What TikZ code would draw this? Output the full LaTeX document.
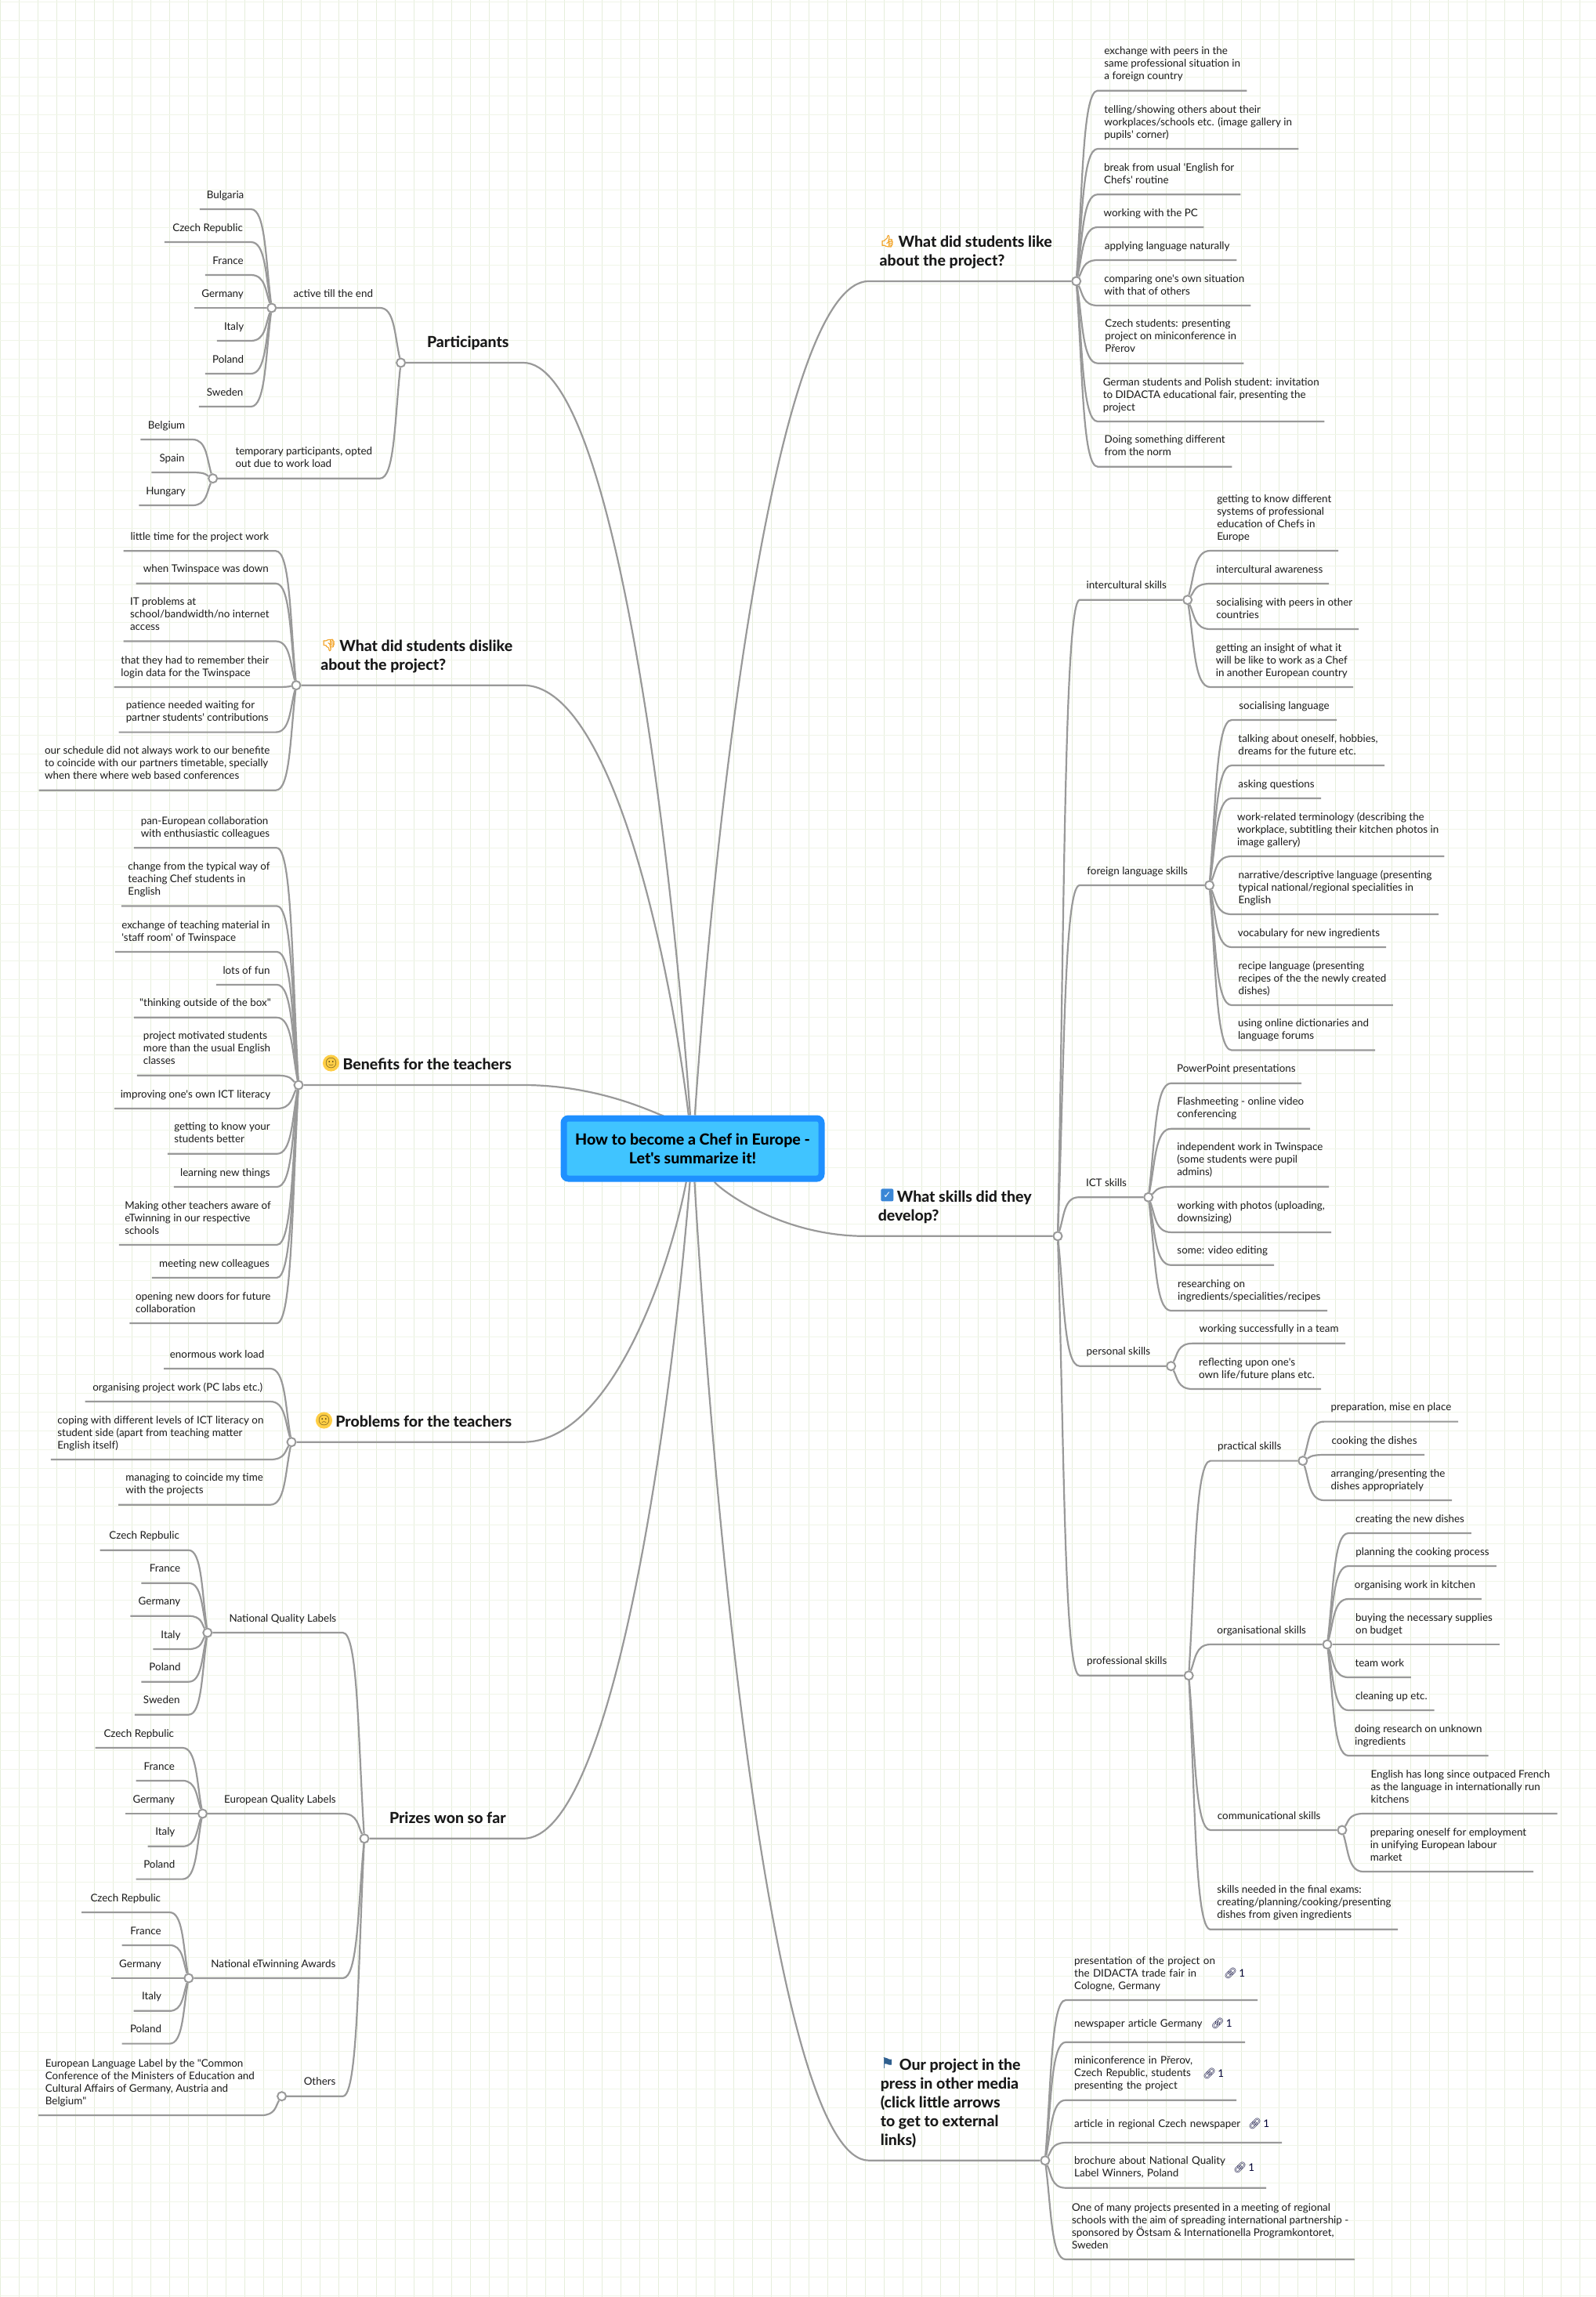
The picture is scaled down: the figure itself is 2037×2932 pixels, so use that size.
\documentclass[tikz,border=0pt]{standalone}
\usepackage{fontspec}
\usetikzlibrary{calc,backgrounds}
\newfontfamily\bodyfont{Lato}
\newfontfamily\headfont{Lato Heavy}
\newfontfamily\emojifont{Noto Emoji}
\newfontfamily\symbfont{DejaVu Sans}
\definecolor{linkgray}{HTML}{999999}
\definecolor{gridv}{HTML}{E6EEDC}
\definecolor{gridh}{HTML}{F0F5E8}
\definecolor{rootfill}{HTML}{40C4FF}
\definecolor{rootdraw}{HTML}{1E90FF}
\definecolor{thumbcol}{HTML}{F2A52B}
\definecolor{facecol}{HTML}{FFCE45}
\definecolor{checkcol}{HTML}{3A86D6}
\definecolor{flagcol}{HTML}{2F5F8F}
\tikzset{
  leaf/.style={align=left,inner xsep=2,inner ysep=0,text=black!90,
    font=\bodyfont\fontsize{13.4}{16}\selectfont,
    execute at end node=\rule[-13.7pt]{0pt}{1pt}},
  leafr/.style={leaf,anchor=south west},
  leafl/.style={leaf,anchor=south east},
  pressleaf/.style={leafr,inner xsep=10.7},
  pressone/.style={pressleaf,execute at end node=\rule[-19pt]{0pt}{1pt}},
  headr/.style={leafr,font=\headfont\fontsize{19.5}{24}\selectfont,
    execute at end node=\rule[-19.5pt]{0pt}{1pt}},
  headl/.style={headr,anchor=south east},
  root/.style={align=center,rounded corners=6,draw=rootdraw,fill=rootfill,line width=8,
    minimum width=329,minimum height=77,font=\headfont\fontsize{19.6}{24}\selectfont},
  hub/.style={circle,draw=linkgray,fill=white,line width=2,minimum size=11,inner sep=0},
  iconmark/.style={inner sep=0,font=\emojifont\addfontfeature{FakeBold=3}\fontsize{15}{15}\selectfont},
  facemark/.style={inner sep=0,circle,fill=facecol,text=black!75!facecol,minimum size=17,
    font=\emojifont\fontsize{13}{13}\selectfont},
  linkmark/.style={inner sep=0,text=black!80!blue,font=\bodyfont\fontsize{13.4}{16}\selectfont},
  link/.style={draw=linkgray,line width=2.2},
  hublink/.style={to path={let \p1=(\tikztostart),\p2=(\tikztotarget) in
    .. controls ({\x1+.3*(\x2-\x1)},{\y1+.5*(\y2-\y1)}) and ({\x1+.3*(\x2-\x1)},\y2) .. (\tikztotarget)}},
  mainlink/.style={to path={let \p1=(\tikztostart),\p2=(\tikztotarget) in
    .. controls ({\x1+.15*(\x2-\x1)},{\y1+.45*(\y2-\y1)}) and ({\x1+.5*(\x2-\x1)},\y2) .. (\tikztotarget)}}
}
\begin{document}
\begin{tikzpicture}[x=1pt,y=-1pt]
\useasboundingbox (0,0) rectangle (2037,2932);

\node[root] (ctr) at (884,1466) {How to become a Chef in Europe -\\Let's summarize it!};

\node[headl,minimum width=141] (part) at (668,463) {Participants};
\node[hub] (hPart) at (511.6,463) {};
\node[leafl,minimum width=119] (active) at (485,393) {active till the end};
\node[leafl,minimum width=194] (temp) at (485,610.7) {temporary participants, opted\\out due to work load};
\node[hub] (hActive) at (346.7,393) {};
\node[hub] (hTemp) at (271.7,610.7) {};
\node[leafl,minimum width=65] (a1) at (320.3,267) {Bulgaria};
\node[leafl,minimum width=110] (a2) at (320.3,309) {Czech Republic};
\node[leafl,minimum width=58] (a3) at (320.3,351) {France};
\node[leafl,minimum width=72] (a4) at (320.3,393) {Germany};
\node[leafl,minimum width=43] (a5) at (320.3,435) {Italy};
\node[leafl,minimum width=58] (a6) at (320.3,477) {Poland};
\node[leafl,minimum width=66] (a7) at (320.3,519) {Sweden};
\node[leafl,minimum width=66] (t1) at (245.7,561) {Belgium};
\node[leafl,minimum width=52] (t2) at (245.7,603) {Spain};
\node[leafl,minimum width=68] (t3) at (245.7,645) {Hungary};

\node[headl,minimum width=272] (dislike) at (668,874.7) {\hspace*{24pt}What did students dislike\\about the project?};
\node[iconmark,text=thumbcol] (iDislike) at (419.8,823.5) {\char"1F44E};
\node[hub] (hDislike) at (378,874.7) {};
\node[leafl,minimum width=194] (d1) at (352,703.3) {little time for the project work};
\node[leafl,minimum width=178] (d2) at (352,744.8) {when Twinspace was down};
\node[leafl,minimum width=194] (d3) at (352,818.5) {IT problems at\\school/bandwidth/no internet\\access};
\node[leafl,minimum width=206] (d4) at (352,877) {that they had to remember their\\login data for the Twinspace};
\node[leafl,minimum width=200] (d5) at (352,934.6) {patience needed waiting for\\partner students' contributions};
\node[leafl,minimum width=302] (d6) at (352,1008.7) {our schedule did not always work to our benefite\\to coincide with our partners timetable, specially\\when there where web based conferences};

\node[headl,minimum width=269] (benefit) at (668,1385) {\hspace*{24pt}Benefits for the teachers};
\node[facemark] (iBenefit) at (422.5,1357) {\char"1F642};
\node[hub] (hBenefit) at (381,1385) {};
\node[leafl,minimum width=182] (b1) at (353.2,1082.3) {pan-European collaboration\\with enthusiastic colleagues};
\node[leafl,minimum width=198] (b2) at (353.2,1156.4) {change from the typical way of\\teaching Chef students in\\English};
\node[leafl,minimum width=206] (b3) at (353.2,1214.9) {exchange of teaching material in\\'staff room' of Twinspace};
\node[leafl,minimum width=77] (b4) at (353.2,1256.9) {lots of fun};
\node[leafl,minimum width=182] (b5) at (353.2,1298.8) {"thinking outside of the box"};
\node[leafl,minimum width=178] (b6) at (353.2,1372.7) {project motivated students\\more than the usual English\\classes};
\node[leafl,minimum width=207] (b7) at (353.2,1415) {improving one's own ICT literacy};
\node[leafl,minimum width=139] (b8) at (353.2,1472.8) {getting to know your\\students better};
\node[leafl,minimum width=131] (b9) at (353.2,1515) {learning new things};
\node[leafl,minimum width=201] (b10) at (353.2,1589) {Making other teachers aware of\\eTwinning in our respective\\schools};
\node[leafl,minimum width=159] (b11) at (353.2,1631) {meeting new colleagues};
\node[leafl,minimum width=187.5] (b12) at (353.2,1689) {opening new doors for future\\collaboration};

\node[headl,minimum width=278] (problem) at (668,1840.7) {\hspace*{24pt}Problems for the teachers};
\node[facemark] (iProblem) at (413.5,1813) {\char"1F641};
\node[hub] (hProblem) at (372,1840.7) {};
\node[leafl,minimum width=135.4] (p1) at (345,1747) {enormous work load};
\node[leafl,minimum width=236] (p2) at (345,1789) {organising project work (PC labs etc.)};
\node[leafl,minimum width=279.7] (p3) at (345,1863) {coping with different levels of ICT literacy on\\student side (apart from teaching matter\\English itself)};
\node[leafl,minimum width=193.4] (p4) at (345,1920.7) {managing to coincide my time\\with the projects};

\node[headl,minimum width=193] (prize) at (668,2346.8) {Prizes won so far};
\node[hub] (hPrize) at (465,2346.8) {};
\node[leafl,minimum width=153] (nql) at (437.6,2084) {National Quality Labels};
\node[leafl,minimum width=160] (eql) at (437.6,2315) {European Quality Labels};
\node[leafl,minimum width=177] (net) at (437.6,2525) {National eTwinning Awards};
\node[leafl,minimum width=58.6] (oth) at (437.6,2675.7) {Others};
\node[hub] (hNql) at (264.8,2084) {};
\node[hub] (hEql) at (258.5,2315) {};
\node[hub] (hNet) at (240.8,2525) {};
\node[hub] (hOth) at (359.6,2675.7) {};
\node[leafl,minimum width=112.7] (q1) at (240.7,1978.7) {Czech Repbulic};
\node[leafl,minimum width=60] (q2) at (240.7,2020.7) {France};
\node[leafl,minimum width=74] (q3) at (240.7,2062.7) {Germany};
\node[leafl,minimum width=45] (q4) at (240.7,2105) {Italy};
\node[leafl,minimum width=60] (q5) at (240.7,2146.7) {Poland};
\node[leafl,minimum width=68.4] (q6) at (240.7,2188.7) {Sweden};
\node[leafl,minimum width=111] (e1) at (233,2231) {Czech Repbulic};
\node[leafl,minimum width=59] (e2) at (233,2272.9) {France};
\node[leafl,minimum width=73] (e3) at (233,2315) {Germany};
\node[leafl,minimum width=44] (e4) at (233,2356.8) {Italy};
\node[leafl,minimum width=59] (e5) at (233,2398.6) {Poland};
\node[leafl,minimum width=112] (n1) at (216.5,2441) {Czech Repbulic};
\node[leafl,minimum width=60.5] (n2) at (216.5,2482.9) {France};
\node[leafl,minimum width=74.6] (n3) at (216.5,2525) {Germany};
\node[leafl,minimum width=45.5] (n4) at (216.5,2566.8) {Italy};
\node[leafl,minimum width=60.5] (n5) at (216.5,2608.6) {Poland};
\node[leafl,minimum width=284] (o1) at (333.6,2700) {European Language Label by the "Common\\Conference of the Ministers of Education and\\Cultural Affairs of Germany, Austria and\\Belgium"};

\node[headr,minimum width=247] (like) at (1109,358.9) {\hspace*{24pt}What did students like\\about the project?};
\node[iconmark,text=thumbcol] (iLike) at (1132.6,307.7) {\char"1F44D};
\node[hub] (hLike) at (1373.7,358.9) {};
\node[leafr,minimum width=190] (l1) at (1401,115.7) {exchange with peers in the\\same professional situation in\\a foreign country};
\node[leafr,minimum width=256] (l2) at (1401,190) {telling/showing others about their\\workplaces/schools etc. (image gallery in\\pupils' corner)};
\node[leafr,minimum width=182] (l3) at (1401,248.2) {break from usual 'English for\\Chefs' routine};
\node[leafr,minimum width=135] (l4) at (1401,290) {working with the PC};
\node[leafr,minimum width=177] (l5) at (1401,332) {applying language naturally};
\node[leafr,minimum width=195] (l6) at (1401,390) {comparing one's own situation\\with that of others};
\node[leafr,minimum width=186] (l7) at (1401,463.7) {Czech students: presenting\\project on miniconference in\\Přerov};
\node[leafr,minimum width=289] (l8) at (1401,538) {German students and Polish student: invitation\\to DIDACTA educational fair, presenting the\\project};
\node[leafr,minimum width=171] (l9) at (1401,595.7) {Doing something different\\from the norm};

\node[headr,minimum width=229] (skill) at (1104,1577.8) {\hspace*{24pt}What skills did they\\develop?};
\node[iconmark,fill=checkcol,rounded corners=2,minimum size=16,text=white,font=\symbfont\fontsize{12}{12}\selectfont] (iSkill) at (1132.3,1525.4) {✓};
\node[hub] (hSkill) at (1350,1577.8) {};
\node[leafr,minimum width=119] (inter) at (1378,765.7) {intercultural skills};
\node[leafr,minimum width=147] (foreign) at (1378,1130) {foreign language skills};
\node[leafr,minimum width=70] (ict) at (1376.8,1528.2) {ICT skills};
\node[leafr,minimum width=98.4] (pers) at (1378,1743.7) {personal skills};
\node[leafr,minimum width=120] (prof) at (1378,2138.7) {professional skills};
\node[hub] (hInter) at (1515.7,765.7) {};
\node[hub] (hForeign) at (1543.6,1130) {};
\node[hub] (hIct) at (1465.7,1528.2) {};
\node[hub] (hPers) at (1494.6,1743.7) {};
\node[hub] (hProf) at (1517.2,2138.7) {};
\node[leafr,minimum width=163] (i1) at (1544.6,703) {getting to know different\\systems of professional\\education of Chefs in\\Europe};
\node[leafr,minimum width=151] (i2) at (1544.6,745) {intercultural awareness};
\node[leafr,minimum width=189] (i3) at (1544.6,803) {socialising with peers in other\\countries};
\node[leafr,minimum width=182] (i4) at (1544.6,877) {getting an insight of what it\\will be like to work as a Chef\\in another European country};
\node[leafr,minimum width=133.7] (f1) at (1572,919) {socialising language};
\node[leafr,minimum width=194.8] (f2) at (1572,977) {talking about oneself, hobbies,\\dreams for the future etc.};
\node[leafr,minimum width=113.7] (f3) at (1572,1019) {asking questions};
\node[leafr,minimum width=270.9] (f4) at (1572,1093) {work-related terminology (describing the\\workplace, subtitling their kitchen photos in\\image gallery)};
\node[leafr,minimum width=263.7] (f5) at (1572,1167) {narrative/descriptive language (presenting\\typical national/regional specialities in\\English};
\node[leafr,minimum width=196.6] (f6) at (1572,1209) {vocabulary for new ingredients};
\node[leafr,minimum width=205.5] (f7) at (1572,1283) {recipe language (presenting\\recipes of the the newly created\\dishes)};
\node[leafr,minimum width=182.6] (f8) at (1572,1340.5) {using online dictionaries and\\language forums};
\node[leafr,minimum width=166] (c1) at (1494.6,1382.7) {PowerPoint presentations};
\node[leafr,minimum width=177] (c2) at (1494.6,1440.8) {Flashmeeting - online video\\conferencing};
\node[leafr,minimum width=201] (c3) at (1494.6,1514.8) {independent work in Twinspace\\(some students were pupil\\admins)};
\node[leafr,minimum width=204] (c4) at (1494.6,1572.9) {working with photos (uploading,\\downsizing)};
\node[leafr,minimum width=131] (c5) at (1494.6,1614.8) {some: video editing};
\node[leafr,minimum width=199] (c6) at (1494.6,1673) {researching on\\ingredients/specialities/recipes};
\node[leafr,minimum width=194.8] (s1) at (1522,1714.8) {working successfully in a team};
\node[leafr,minimum width=163.7] (s2) at (1522,1773) {reflecting upon one's\\own life/future plans etc.};

\node[leafr,minimum width=99] (pract) at (1545,1864.6) {practical skills};
\node[leafr,minimum width=130] (orga) at (1545,2099) {organisational skills};
\node[leafr,minimum width=149] (comm) at (1545,2336) {communicational skills};
\node[leafr,minimum width=238.6] (exam) at (1545,2462.8) {skills needed in the final exams:\\creating/planning/cooking/presenting\\dishes from given ingredients};
\node[hub] (hPract) at (1662.8,1864.6) {};
\node[hub] (hOrga) at (1694,2099) {};
\node[hub] (hComm) at (1712.9,2336) {};
\node[leafr,minimum width=170.6] (r1) at (1690,1814.6) {preparation, mise en place};
\node[leafr,minimum width=127.7] (r2) at (1690,1857) {cooking the dishes};
\node[leafr,minimum width=162.6] (r3) at (1690,1915) {arranging/presenting the\\dishes appropriately};
\node[leafr,minimum width=156.5] (g1) at (1721,1957) {creating the new dishes};
\node[leafr,minimum width=188.5] (g2) at (1721,1999) {planning the cooking process};
\node[leafr,minimum width=169.5] (g3) at (1721,2041) {organising work in kitchen};
\node[leafr,minimum width=192.6] (g4) at (1721,2099) {buying the necessary supplies\\on budget};
\node[leafr,minimum width=79.4] (g5) at (1721,2141) {team work};
\node[leafr,minimum width=109.3] (g6) at (1721,2183) {cleaning up etc.};
\node[leafr,minimum width=178.3] (g7) at (1721,2241) {doing research on unknown\\ingredients};
\node[leafr,minimum width=247.3] (m1) at (1740,2315) {English has long since outpaced French\\as the language in internationally run\\kitchens};
\node[leafr,minimum width=216.6] (m2) at (1740,2389) {preparing oneself for employment\\in unifying European labour\\market};

\node[headr,minimum width=208] (press) at (1109,2757.7) {\hspace*{24pt}Our project in the\\press in other media\\(click little arrows\\to get to external\\links)};
\node[iconmark,text=flagcol,font=\symbfont\fontsize{19}{19}\selectfont] (iPress) at (1132.8,2634) {⚑};
\node[hub] (hPress) at (1333.9,2757.7) {};
\node[pressleaf,text width=223] (w1) at (1360.3,2553) {presentation of the project on\\the DIDACTA trade fair in\\Cologne, Germany};
\node[pressone,text width=207] (w2) at (1360.3,2606.7) {newspaper article Germany};
\node[pressleaf,text width=196] (w3) at (1360.3,2680.7) {miniconference in Přerov,\\Czech Republic, students\\presenting the project};
\node[pressone,text width=254] (w4) at (1360.3,2735) {article in regional Czech newspaper};
\node[pressleaf,text width=234] (w5) at (1360.3,2792.7) {brochure about National Quality\\Label Winners, Poland};
\node[leafr,minimum width=368.3] (w6) at (1360.3,2884) {One of many projects presented in a meeting of regional\\schools with the aim of spreading international partnership -\\sponsored by Östsam \& Internationella Programkontoret,\\Sweden};
\node[linkmark] (k1) at (1575.5,2519.3) {{\emojifont\char"1F517}\,1};
\node[linkmark] (k2) at (1559,2582.7) {{\emojifont\char"1F517}\,1};
\node[linkmark] (k3) at (1548.7,2646.7) {{\emojifont\char"1F517}\,1};
\node[linkmark] (k4) at (1606.7,2710.7) {{\emojifont\char"1F517}\,1};
\node[linkmark] (k5) at (1587.5,2766.7) {{\emojifont\char"1F517}\,1};

\begin{scope}[on background layer]
  \foreach \gx in {0,...,84} \draw[gridv,line width=1] ({24*\gx+.5},0) -- ({24*\gx+.5},2932);
  \foreach \gy in {0,...,122} \draw[gridh,line width=1] (0,{24*\gy+2.5}) -- (2037,{24*\gy+2.5});

  \foreach \nd/\hb in {part/hPart,dislike/hDislike,benefit/hBenefit,problem/hProblem,prize/hPrize}
    \draw[link] (ctr) to[mainlink] (\nd.south east) -- (\hb);
  \foreach \nd/\hb in {like/hLike,skill/hSkill,press/hPress}
    \draw[link] (ctr) to[mainlink] (\nd.south west) -- (\hb);

  \foreach \nd/\hb in {active/hActive,temp/hTemp}
    \draw[link] (hPart) to[hublink] (\nd.south east) -- (\hb);
  \foreach \nd/\hb in {nql/hNql,eql/hEql,net/hNet,oth/hOth}
    \draw[link] (hPrize) to[hublink] (\nd.south east) -- (\hb);
  \foreach \nd/\hb in {inter/hInter,foreign/hForeign,ict/hIct,pers/hPers,prof/hProf}
    \draw[link] (hSkill) to[hublink] (\nd.south west) -- (\hb);
  \foreach \nd/\hb in {pract/hPract,orga/hOrga,comm/hComm}
    \draw[link] (hProf) to[hublink] (\nd.south west) -- (\hb);
  \draw[link] (hProf) to[hublink] (exam.south west) -- (exam.south east);

  \foreach \hb/\kids in {hActive/{a1,a2,a3,a4,a5,a6,a7},hTemp/{t1,t2,t3},
      hDislike/{d1,d2,d3,d4,d5,d6},hBenefit/{b1,b2,b3,b4,b5,b6,b7,b8,b9,b10,b11,b12},
      hProblem/{p1,p2,p3,p4},hNql/{q1,q2,q3,q4,q5,q6},hEql/{e1,e2,e3,e4,e5},
      hNet/{n1,n2,n3,n4,n5},hOth/{o1}}
    \foreach \nd in \kids
      \draw[link] (\hb) to[hublink] (\nd.south east) -- (\nd.south west);

  \foreach \hb/\kids in {hLike/{l1,l2,l3,l4,l5,l6,l7,l8,l9},hInter/{i1,i2,i3,i4},
      hForeign/{f1,f2,f3,f4,f5,f6,f7,f8},hIct/{c1,c2,c3,c4,c5,c6},hPers/{s1,s2},
      hPract/{r1,r2,r3},hOrga/{g1,g2,g3,g4,g5,g6,g7},hComm/{m1,m2},
      hPress/{w1,w2,w3,w4,w5,w6}}
    \foreach \nd in \kids
      \draw[link] (\hb) to[hublink] (\nd.south west) -- (\nd.south east);
\end{scope}
\end{tikzpicture}
\end{document}
